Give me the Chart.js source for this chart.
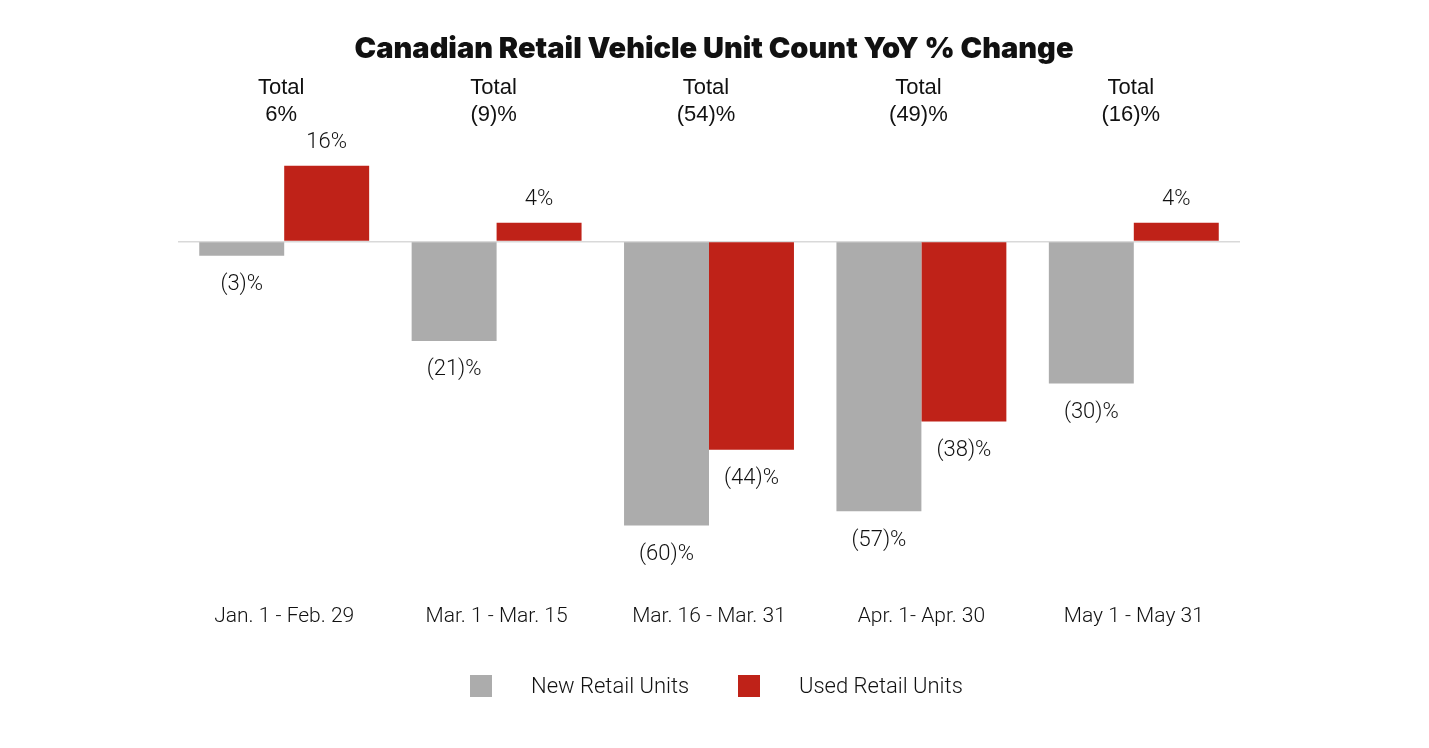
<!DOCTYPE html>
<html>
<head>
<meta charset="utf-8">
<script src="https://cdn.jsdelivr.net/npm/chart.js@4.4.0/dist/chart.umd.min.js"></script>
<style>
  html, body { margin: 0; padding: 0; background: #fff; }
  #wrap { width: 1429px; height: 748px; }
</style>
</head>
<body>
<div id="wrap"><canvas id="chart"></canvas></div>
<script>
// datos
const categorias = ["Jan. 1 - Feb. 29", "Mar. 1 - Mar. 15", "Mar. 16 - Mar. 31", "Apr. 1- Apr. 30", "May 1 - May 31"];
const nuevos = [-3, -21, -60, -57, -30];
const usados = [16, 4, -44, -38, 4];
const totales = [6, -9, -54, -49, -16];
const titulo = "Canadian Retail Vehicle Unit Count YoY % Change";

const GRIS = "#acacac";
const ROJO = "#bf2218";

function fmt(v) {
    return v < 0 ? "(" + Math.abs(v) + ")%" : v + "%";
}

// etiquetas, totales, titulo y leyenda
const extras = {
    id: "extras",
    afterDatasetsDraw(chart) {
        const ctx = chart.ctx;
        const x = chart.scales.x;
        ctx.save();
        ctx.fillStyle = "#111";
        ctx.textAlign = "center";
        ctx.textBaseline = "middle";

        // valores de cada barra
        ctx.font = "300 22px Roboto";
        chart.data.datasets.forEach((ds, i) => {
            chart.getDatasetMeta(i).data.forEach((bar, j) => {
                const v = ds.data[j];
                const y = v >= 0 ? bar.y - 23 : bar.y + 29;
                ctx.fillText(fmt(v), bar.x, y);
            });
        });

        // totales arriba
        ctx.font = "22px 'Liberation Sans'";
        totales.forEach((t, j) => {
            const cx = x.getPixelForValue(j) - 3;
            ctx.fillText("Total", cx, 88);
            ctx.fillText(fmt(t), cx, 115);
        });

        // titulo
        ctx.font = "900 29px Inter";
        ctx.fillText(titulo, 714, 49);

        // leyenda
        ctx.font = "300 22px Roboto";
        ctx.textAlign = "left";
        const leyenda = [[470, 531], [738, 799]];
        chart.data.datasets.forEach((ds, i) => {
            ctx.fillStyle = ds.backgroundColor;
            ctx.fillRect(leyenda[i][0], 675, 22, 22);
            ctx.fillStyle = "#111";
            ctx.fillText(ds.label, leyenda[i][1], 687);
        });
        ctx.restore();
    }
};

new Chart(document.getElementById("chart"), {
    type: "bar",
    data: {
        labels: categorias,
        datasets: [
            { label: "New Retail Units", data: nuevos, backgroundColor: GRIS },
            { label: "Used Retail Units", data: usados, backgroundColor: ROJO }
        ]
    },
    options: {
        responsive: true,
        maintainAspectRatio: false,
        animation: false,
        devicePixelRatio: 1,
        layout: { padding: { left: 178, right: 189, top: 128, bottom: 88 } },
        categoryPercentage: 0.8,
        barPercentage: 1.0,
        plugins: {
            legend: { display: false },
            title: { display: false },
            tooltip: { enabled: false }
        },
        scales: {
            x: {
                grid: { display: false, drawTicks: false },
                border: { display: false },
                ticks: { color: "#111", font: { family: "Roboto", size: 21, weight: 300 }, padding: 31, maxRotation: 0 }
            },
            y: {
                min: -70,
                max: 24,
                ticks: { display: false, stepSize: 1 },
                border: { display: false },
                grid: {
                    drawTicks: false,
                    color: c => c.tick && c.tick.value === 0 ? "#d9d9d9" : "rgba(0,0,0,0)",
                    lineWidth: 1.5
                }
            }
        }
    },
    plugins: [extras]
});
</script>
</body>
</html>
